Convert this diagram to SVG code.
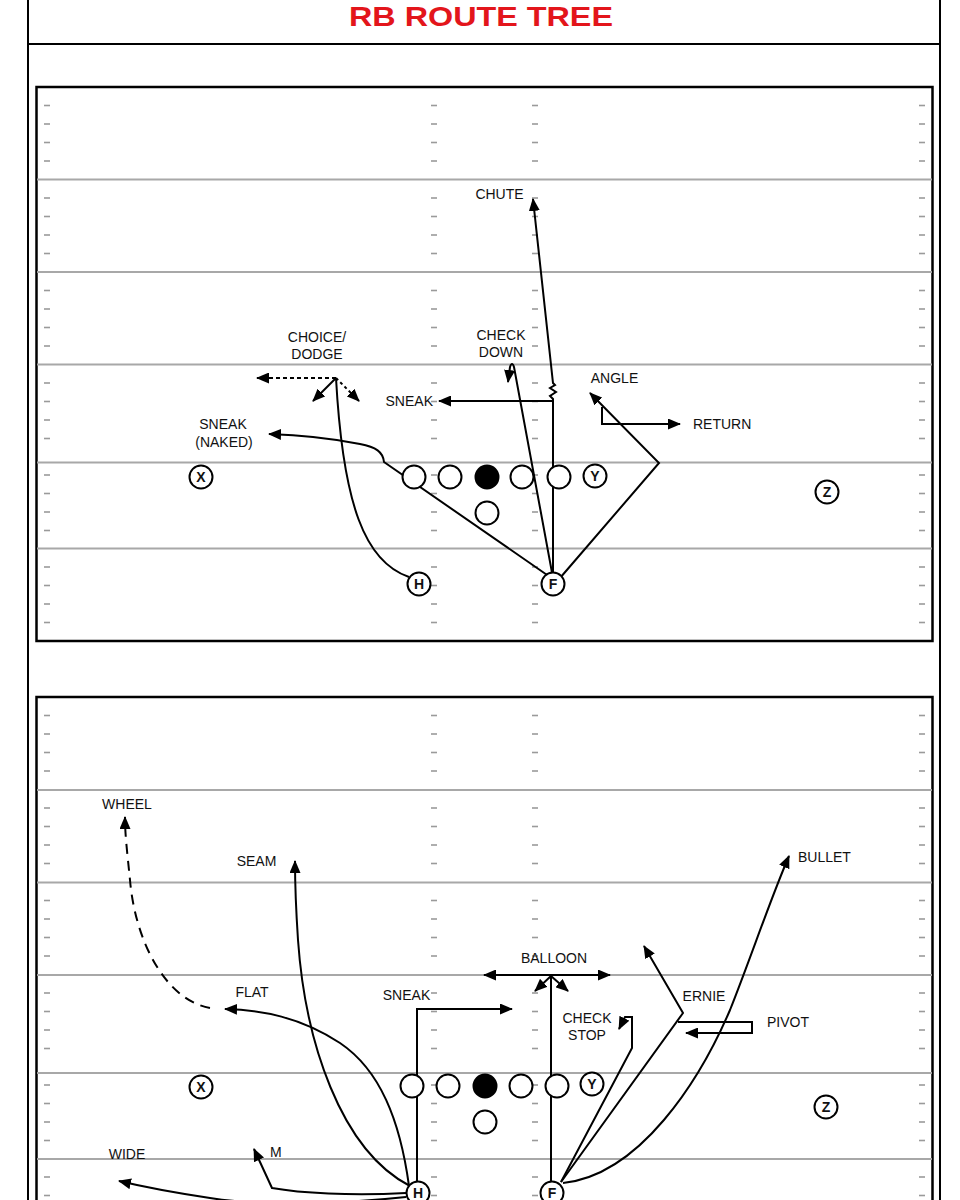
<svg xmlns="http://www.w3.org/2000/svg" width="960" height="1200" viewBox="0 0 960 1200">
<defs>
<style>
.frame{fill:none;stroke:#000;stroke-width:2}
.box{fill:#fff;stroke:#000;stroke-width:2.5}
.yl{stroke:#a8a8a8;stroke-width:2}
.hash{stroke:#9a9a9a;stroke-width:1.6}
.r{fill:none;stroke:#000;stroke-width:2}
.a{marker-end:url(#ah)}
.pl{fill:#fff;stroke:#000;stroke-width:2}
.lt{font-family:"Liberation Sans",Arial,sans-serif;font-size:14px;fill:#111}
.pt{font-family:"Liberation Sans",Arial,sans-serif;font-size:14px;font-weight:bold;fill:#111;text-anchor:middle}
.c{text-anchor:middle}
</style>
<marker id="ah" viewBox="0 0 13 11" refX="12" refY="5.5" markerWidth="13" markerHeight="11" markerUnits="userSpaceOnUse" orient="auto-start-reverse"><path d="M0,0 L13,5.5 L0,11 z" fill="#000"/></marker>
<g id="hashrow">
<line class="hash" x1="44" y1="0" x2="50" y2="0"/>
<line class="hash" x1="431" y1="0" x2="437" y2="0"/>
<line class="hash" x1="532" y1="0" x2="538" y2="0"/>
<line class="hash" x1="919" y1="0" x2="925" y2="0"/>
</g>
<g id="hashes">
<use href="#hashrow" y="105.5"/><use href="#hashrow" y="124"/><use href="#hashrow" y="142.5"/><use href="#hashrow" y="161"/>
<use href="#hashrow" y="198"/><use href="#hashrow" y="216.5"/><use href="#hashrow" y="235"/><use href="#hashrow" y="253.5"/>
<use href="#hashrow" y="290.5"/><use href="#hashrow" y="309"/><use href="#hashrow" y="327.5"/><use href="#hashrow" y="346"/>
<use href="#hashrow" y="383"/><use href="#hashrow" y="401.5"/><use href="#hashrow" y="420"/><use href="#hashrow" y="438.5"/>
<use href="#hashrow" y="475"/><use href="#hashrow" y="493.5"/><use href="#hashrow" y="512"/><use href="#hashrow" y="530.5"/>
<use href="#hashrow" y="567"/><use href="#hashrow" y="585.5"/><use href="#hashrow" y="604"/><use href="#hashrow" y="622.5"/>
</g>
<g id="ylines">
<line class="yl" x1="37" y1="179.5" x2="932" y2="179.5"/>
<line class="yl" x1="37" y1="272" x2="932" y2="272"/>
<line class="yl" x1="37" y1="364.5" x2="932" y2="364.5"/>
<line class="yl" x1="37" y1="462.5" x2="932" y2="462.5"/>
<line class="yl" x1="37" y1="548.5" x2="932" y2="548.5"/>
</g>
</defs>

<g id="frame">
<line class="frame" x1="28" y1="0" x2="28" y2="1200"/>
<line class="frame" x1="940" y1="0" x2="940" y2="1200"/>
<line class="frame" x1="28" y1="44" x2="940" y2="44"/>
<text x="481" y="26" text-anchor="middle" font-family="'Liberation Sans',Arial,sans-serif" font-weight="bold" font-size="28.5" fill="#e3151b" textLength="264" lengthAdjust="spacingAndGlyphs">RB ROUTE TREE</text>
</g>

<!-- TOP FIELD -->
<g id="field-top">
<rect class="box" x="36.5" y="87" width="896" height="554"/>
<use href="#ylines"/>
<use href="#hashes"/>
</g>

<g id="connectors-top">
<!-- CHUTE -->
<path class="r a" d="M553,578 L553,401 L553,399 L550,396 L556,392 L550,388 L555,385 L553,383 L533,199"/>
<!-- SNEAK -->
<path class="r a" d="M553,401 L439,401"/>
<!-- CHECK DOWN -->
<path class="r a" d="M553,578 L514,367 Q512,361 510,367 L508,382"/>
<!-- ANGLE -->
<path class="r a" d="M560,578 L659,463 L590,393"/>
<!-- RETURN -->
<path class="r a" d="M602,407 L602,424 L680,424"/>
<!-- SNEAK (NAKED) -->
<path class="r a" d="M550,577 L384,462 C383,452 376,447 360,444 C330,438 300,435 269,434"/>
<!-- CHOICE/DODGE -->
<path class="r" d="M409,577 C365,562 343,505 336,378"/>
<path class="r a" d="M336,378 L257,378" stroke-dasharray="4 3"/>
<path class="r a" d="M336,378 L313,401"/>
<path class="r a" d="M336,378 L359,401" stroke-dasharray="3 3"/>
</g>

<g id="players-top">
<g id="t-X"><circle class="pl" cx="201" cy="477" r="11.5"/><text class="pt" x="201" y="482">X</text></g>
<g id="t-OL1"><circle class="pl" cx="414" cy="477" r="11.5"/></g>
<g id="t-OL2"><circle class="pl" cx="450" cy="477" r="11.5"/></g>
<g id="t-C"><circle cx="487" cy="477" r="11.5" fill="#000" stroke="#000" stroke-width="2"/></g>
<g id="t-OL4"><circle class="pl" cx="522" cy="477" r="11.5"/></g>
<g id="t-OL5"><circle class="pl" cx="559" cy="477" r="11.5"/></g>
<g id="t-Y"><circle class="pl" cx="595" cy="476" r="11.5"/><text class="pt" x="595" y="481">Y</text></g>
<g id="t-QB"><circle class="pl" cx="487" cy="513" r="11.5"/></g>
<g id="t-Z"><circle class="pl" cx="827" cy="492" r="11.5"/><text class="pt" x="827" y="497">Z</text></g>
<g id="t-H"><circle class="pl" cx="419" cy="584" r="11.5"/><text class="pt" x="419" y="589">H</text></g>
<g id="t-F"><circle class="pl" cx="553" cy="584" r="11.5"/><text class="pt" x="553" y="589">F</text></g>
</g>

<g id="labels-top">
<text class="lt c" x="499.5" y="199">CHUTE</text>
<text class="lt c" x="317" y="342">CHOICE/</text>
<text class="lt c" x="317" y="359">DODGE</text>
<text class="lt c" x="501" y="340">CHECK</text>
<text class="lt c" x="501" y="357">DOWN</text>
<text class="lt" x="433" y="406" text-anchor="end">SNEAK</text>
<text class="lt c" x="614.5" y="383">ANGLE</text>
<text class="lt" x="693" y="429">RETURN</text>
<text class="lt c" x="223" y="429">SNEAK</text>
<text class="lt c" x="224" y="447">(NAKED)</text>
</g>

<!-- BOTTOM FIELD -->
<g id="field-bottom">
<path d="M36.5,1202 L36.5,697 L932.5,697 L932.5,1202" fill="#fff" stroke="#000" stroke-width="2.5"/>
<use href="#ylines" y="610.5"/>
<use href="#hashes" y="610"/>
</g>

<g id="connectors-bottom">
<!-- SNEAK -->
<path class="r a" d="M417,1182 L417,1009 L512,1009"/>
<!-- BALLOON -->
<path class="r" d="M551,1182 L551,975"/>
<path class="r a" d="M484,975 L610,975" marker-start="url(#ah)"/>
<path class="r a" d="M551,976 L535,991"/>
<path class="r a" d="M551,976 L568,991"/>
<!-- CHECK STOP -->
<path class="r a" d="M561,1182 L632,1048 L632,1017 L625,1017 L619,1029"/>
<!-- ERNIE -->
<path class="r a" d="M561,1182 L683,1013 L644,946"/>
<!-- PIVOT -->
<path class="r a" d="M678,1022 L752,1022 L752,1033 L686,1033"/>
<!-- BULLET -->
<path class="r a" d="M563,1183 C640,1175 700,1080 730,1010 C750,960 770,900 789,856"/>
<!-- FLAT -->
<path class="r a" d="M409,1186 C400,1120 380,1070 340,1043 C300,1017 262,1010 225,1009"/>
<!-- WHEEL -->
<path class="r a" d="M210,1008 C165,1000 135,940 130,880 C127,850 125,835 125,817" stroke-dasharray="10 7"/>
<!-- SEAM -->
<path class="r a" d="M410,1186 C340,1150 305,1040 298,940 C296,910 295,885 295,861"/>
<!-- M -->
<path class="r a" d="M406,1193 C350,1196 300,1193 272,1188 L254,1149"/>
<!-- WIDE -->
<path class="r a" d="M406,1197 C340,1204 260,1206 210,1198 C170,1192 140,1186 119,1181"/>
</g>

<g id="players-bottom">
<g id="b-X"><circle class="pl" cx="201" cy="1087" r="11.5"/><text class="pt" x="201" y="1092">X</text></g>
<g id="b-OL1"><circle class="pl" cx="412" cy="1086" r="11.5"/></g>
<g id="b-OL2"><circle class="pl" cx="448" cy="1086" r="11.5"/></g>
<g id="b-C"><circle cx="485" cy="1086" r="11.5" fill="#000" stroke="#000" stroke-width="2"/></g>
<g id="b-OL4"><circle class="pl" cx="521" cy="1086" r="11.5"/></g>
<g id="b-OL5"><circle class="pl" cx="557" cy="1086" r="11.5"/></g>
<g id="b-Y"><circle class="pl" cx="592" cy="1084" r="11.5"/><text class="pt" x="592" y="1089">Y</text></g>
<g id="b-QB"><circle class="pl" cx="485" cy="1122" r="11.5"/></g>
<g id="b-Z"><circle class="pl" cx="826" cy="1107" r="11.5"/><text class="pt" x="826" y="1112">Z</text></g>
<g id="b-H"><circle class="pl" cx="418" cy="1193" r="11.5"/><text class="pt" x="418" y="1198">H</text></g>
<g id="b-F"><circle class="pl" cx="552" cy="1193" r="11.5"/><text class="pt" x="552" y="1198">F</text></g>
</g>

<g id="labels-bottom">
<text class="lt c" x="127" y="809">WHEEL</text>
<text class="lt c" x="256.5" y="866">SEAM</text>
<text class="lt" x="798" y="862">BULLET</text>
<text class="lt c" x="554" y="963">BALLOON</text>
<text class="lt c" x="252" y="997">FLAT</text>
<text class="lt c" x="406.5" y="1000">SNEAK</text>
<text class="lt c" x="704" y="1001">ERNIE</text>
<text class="lt c" x="587" y="1023">CHECK</text>
<text class="lt c" x="587" y="1040">STOP</text>
<text class="lt" x="767" y="1027">PIVOT</text>
<text class="lt c" x="127" y="1159">WIDE</text>
<text class="lt" x="270" y="1157">M</text>
</g>
</svg>
